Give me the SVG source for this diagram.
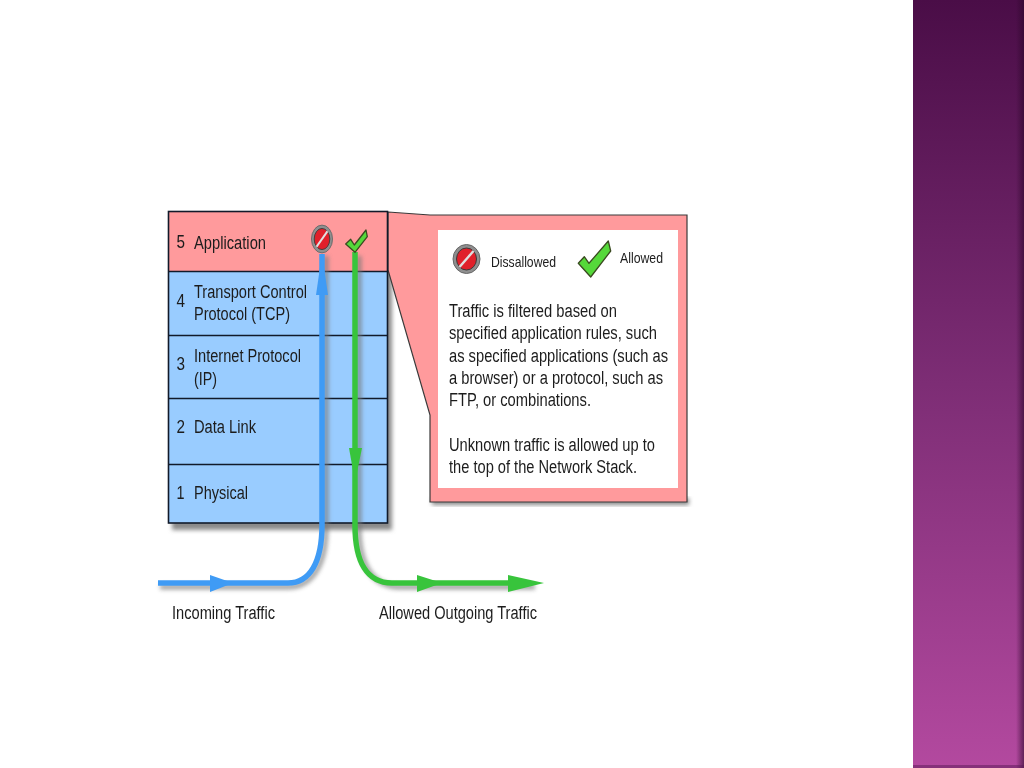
<svg xmlns="http://www.w3.org/2000/svg" width="1024" height="768" viewBox="0 0 1024 768">
<style>
text{font-family:"Liberation Sans",Arial,sans-serif;fill:#1c1c1c;filter:url(#t)}
.l{font-size:18px}
.s{font-size:14.500px}
.p{font-size:18px}
.o{stroke:#111a2a;stroke-width:1.6;fill:none}
.sh{fill:#8a8a8a;filter:url(#b)}
.blue{stroke:#3f9bf5;stroke-width:5.500;fill:none}
.green{stroke:#38c43c;stroke-width:5.500;fill:none}
.bsh{stroke:#777;stroke-width:5;fill:none;filter:url(#b);opacity:.7}
.ba{fill:#3f9bf5}
.ga{fill:#38c43c}
.ck{fill:#55d83a;stroke:#3a4a20;stroke-width:1.300;stroke-linejoin:round}
</style>
<defs>
<linearGradient id="side" x1="0" y1="0" x2="0" y2="1">
<stop offset="0" stop-color="#4a0d47"/>
<stop offset=".5" stop-color="#7d2d75"/>
<stop offset="1" stop-color="#b3499f"/>
</linearGradient>
<linearGradient id="edge" x1="0" y1="0" x2="1" y2="0">
<stop offset="0" stop-color="#2a0628" stop-opacity="0"/>
<stop offset="1" stop-color="#2a0628" stop-opacity=".6"/>
</linearGradient>
<filter id="b" x="-20%" y="-20%" width="140%" height="140%"><feGaussianBlur stdDeviation="2"/></filter>
<filter id="t" x="-5%" y="-20%" width="110%" height="140%"><feGaussianBlur stdDeviation="0.350"/></filter>
<g id="noentry">
<ellipse cx="0" cy="0" rx="13.500" ry="14.500" fill="#8f8f8f" stroke="#666" stroke-width="1"/>
<ellipse cx="0" cy="0" rx="10" ry="11" fill="#e0202a" stroke="#3a3a3a" stroke-width="1"/>
<line x1="-7" y1="8" x2="7" y2="-8" stroke="#e0e0e0" stroke-width="2.400"/>
</g>
</defs>
<rect width="1024" height="768" fill="#fff"/>
<g id="sidebar">
<rect x="913" y="0" width="111" height="768" fill="url(#side)"/>
<rect x="1016" y="0" width="8" height="768" fill="url(#edge)"/>
<rect x="913" y="765" width="111" height="3" fill="#5a1a55" opacity=".5"/>
</g>
<g id="shadows">
<rect class="sh" x="172" y="216" width="220" height="314"/>
<rect class="sh" x="432" y="498" width="257" height="7"/>
</g>
<g id="callout">
<polygon points="388,212 430,215 687,215 687,502 430,502 430,415 388,270" fill="#ff9a9c" stroke="#3a3a3a" stroke-width="1.200"/>
<rect x="438" y="230" width="240" height="258" fill="#fff"/>
<use href="#noentry" transform="translate(466.500,259)"/>
<text class="s" x="491" y="267" textLength="65" lengthAdjust="spacingAndGlyphs">Dissallowed</text>
<polygon class="ck" points="578.300,263.300 584.300,256.700 589,263.300 608.300,241 610.700,251 590.700,277"/>
<text class="s" x="620" y="263" textLength="43" lengthAdjust="spacingAndGlyphs">Allowed</text>
<text class="p" x="449" y="317" textLength="168" lengthAdjust="spacingAndGlyphs">Traffic is filtered based on</text>
<text class="p" x="449" y="339" textLength="208" lengthAdjust="spacingAndGlyphs">specified application rules, such</text>
<text class="p" x="449" y="362" textLength="219" lengthAdjust="spacingAndGlyphs">as specified applications (such as</text>
<text class="p" x="449" y="384" textLength="214" lengthAdjust="spacingAndGlyphs">a browser) or a protocol, such as</text>
<text class="p" x="449" y="406" textLength="142" lengthAdjust="spacingAndGlyphs">FTP, or combinations.</text>
<text class="p" x="449" y="451" textLength="206" lengthAdjust="spacingAndGlyphs">Unknown traffic is allowed up to</text>
<text class="p" x="449" y="473" textLength="188" lengthAdjust="spacingAndGlyphs">the top of the Network Stack.</text>
</g>
<g id="layer5">
<rect x="168.500" y="211.500" width="219" height="60" fill="#ff9a9c"/>
<text class="l" x="176.500" y="248" textLength="8.500" lengthAdjust="spacingAndGlyphs">5</text>
<text class="l" x="194" y="249" textLength="72" lengthAdjust="spacingAndGlyphs">Application</text>
</g>
<g id="layer4">
<rect x="168.500" y="271.500" width="219" height="64" fill="#99ccff"/>
<text class="l" x="176.500" y="307" textLength="8.500" lengthAdjust="spacingAndGlyphs">4</text>
<text class="l" x="194" y="298" textLength="113" lengthAdjust="spacingAndGlyphs">Transport Control</text>
<text class="l" x="194" y="320" textLength="96" lengthAdjust="spacingAndGlyphs">Protocol (TCP)</text>
</g>
<g id="layer3">
<rect x="168.500" y="335.500" width="219" height="63" fill="#99ccff"/>
<text class="l" x="176.500" y="370" textLength="8.500" lengthAdjust="spacingAndGlyphs">3</text>
<text class="l" x="194" y="362" textLength="107" lengthAdjust="spacingAndGlyphs">Internet Protocol</text>
<text class="l" x="194" y="385" textLength="23" lengthAdjust="spacingAndGlyphs">(IP)</text>
</g>
<g id="layer2">
<rect x="168.500" y="398.500" width="219" height="66" fill="#99ccff"/>
<text class="l" x="176.500" y="433" textLength="8.500" lengthAdjust="spacingAndGlyphs">2</text>
<text class="l" x="194" y="433" textLength="62" lengthAdjust="spacingAndGlyphs">Data Link</text>
</g>
<g id="layer1">
<rect x="168.500" y="464.500" width="219" height="58.500" fill="#99ccff"/>
<text class="l" x="176.500" y="499" textLength="8" lengthAdjust="spacingAndGlyphs">1</text>
<text class="l" x="194" y="499" textLength="54" lengthAdjust="spacingAndGlyphs">Physical</text>
</g>
<g id="stack-outline">
<rect class="o" x="168.500" y="211.500" width="219" height="311.500"/>
<path class="o" d="M168.500 271.500H387.500M168.500 335.500H387.500M168.500 398.500H387.500M168.500 464.500H387.500"/>
</g>
<g id="connectors">
<path class="bsh" d="M160 587H288C312 587 326 565 326 528V256"/>
<path class="bsh" d="M359 256V528C359 565 373 587 400 587H535"/>
<path class="blue" d="M158 583H288C310 583 322 562 322 525V254"/>
<path class="green" d="M355 252V525C355 562 367 583 392 583H530"/>
<polygon class="ba" points="322,254 328,295 316,295"/>
<polygon class="ba" points="210,575 233,583 210,592"/>
<polygon class="ga" points="349,448 362,448 355,482"/>
<polygon class="ga" points="417,575 442,583 417,592"/>
<polygon class="ga" points="508,575 544,583 508,592"/>
</g>
<g id="icon-disallowed"><use href="#noentry" transform="translate(322,239) scale(.78,.96)"/></g>
<g id="icon-allowed"><polygon class="ck" points="345.700,244 350.700,239.300 354.300,245 366,230 367.300,236.700 355,252.300"/></g>
<g id="labels">
<text class="l" x="172" y="619" textLength="103" lengthAdjust="spacingAndGlyphs">Incoming Traffic</text>
<text class="l" x="379" y="619" textLength="158" lengthAdjust="spacingAndGlyphs">Allowed Outgoing Traffic</text>
</g>
</svg>
